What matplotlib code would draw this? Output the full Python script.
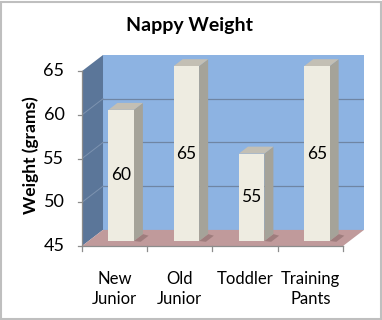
import matplotlib
matplotlib.use("Agg")
import matplotlib.pyplot as plt
from matplotlib.patches import Polygon, Rectangle

categories = ["New\nJunior", "Old\nJunior", "Toddler", "Training\nPants"]
values = [60, 65, 55, 65]
yticks = [45, 50, 55, 60, 65]
title = "Nappy Weight"
ylabel = "Weight (grams)"

FONT = ["Lato", "DejaVu Sans"]
plt.rcParams['font.family'] = FONT

W, H = 382, 320
fig = plt.figure(figsize=(W / 100, H / 100), dpi=100)
fig.patch.set_facecolor("white")
fig.add_artist(Rectangle((1 / W, 1 / H), 1 - 2.5 / W, 1 - 2.5 / H, transform=fig.transFigure,
                         fill=False, edgecolor="#BFBFBF", linewidth=1.5))

ymin, ymax = yticks[0], yticks[-1]
n = len(categories)
xmin, xmax = -0.5, n - 0.5
DX = 0.322   # full depth offset in x units
DY = 1.84    # full depth offset in y units

# axes: front plane + depth
left_px, right_px, bottom_px, top_px = 82, 364, 246, 55
ax = fig.add_axes([left_px / W, 1 - bottom_px / H, (right_px - left_px) / W, (bottom_px - top_px) / H])
ax.set_xlim(xmin, xmax + DX)
ax.set_ylim(ymin, ymax + DY)
ax.axis("off")


def P(x, y, f):
    return (x + f * DX, y + f * DY)


# back wall
ax.add_patch(Polygon([P(xmin, ymin, 1), P(xmax, ymin, 1), P(xmax, ymax, 1), P(xmin, ymax, 1)],
                     closed=True, facecolor="#8DB3E2", edgecolor="none", zorder=1))
# left wall
ax.add_patch(Polygon([P(xmin, ymin, 0), P(xmin, ymin, 1), P(xmin, ymax, 1), P(xmin, ymax, 0)],
                     closed=True, facecolor="#5B7699", edgecolor="none", zorder=1))
# floor
ax.add_patch(Polygon([P(xmin, ymin, 0), P(xmax, ymin, 0), P(xmax, ymin, 1), P(xmin, ymin, 1)],
                     closed=True, facecolor="#C09A9B", edgecolor="none", zorder=1))

# gridlines
for v in yticks[1:-1]:
    a, b = P(xmin, v, 1), P(xmax, v, 1)
    ax.plot([a[0], b[0]], [a[1], b[1]], color="#6F85A3", lw=0.9, zorder=2)
    c, d = P(xmin, v, 0), P(xmin, v, 1)
    ax.plot([c[0], d[0]], [c[1], d[1]], color="#7D93B0", lw=0.7, zorder=2)

# axes lines and ticks
ax.plot([xmin, xmin], [ymin, ymax], color="#8C8C8C", lw=0.9, zorder=3, clip_on=False)
ax.plot([xmin, xmax], [ymin, ymin], color="#8C8C8C", lw=0.9, zorder=3, clip_on=False)
tick_dx = 4 / 65.25
tick_dy = 5 / 8.7
for v in yticks:
    ax.plot([xmin - tick_dx, xmin], [v, v], color="#8C8C8C", lw=0.9, zorder=3, clip_on=False)
    ax.text(xmin - 0.27, v, str(v), ha="right", va="center", fontsize=13, color="black")
for i in range(n + 1):
    x = xmin + i
    ax.plot([x, x], [ymin, ymin - tick_dy], color="#8C8C8C", lw=0.9, zorder=3, clip_on=False)
for i, c in enumerate(categories):
    ax.text(i, ymin - 2.9, c, ha="center", va="top", fontsize=12, linespacing=1.25, color="black")

# bars
f1, f2 = 0.31, 0.74
hw = 0.195
for i, v in enumerate(values):
    x0, x1 = i - hw, i + hw
    # shadow on floor
    ax.add_patch(Polygon([P(x1, ymin, f1), P(x1 + 0.12, ymin, f1 - 0.05), P(x1 + 0.12, ymin, f2 - 0.1), P(x1, ymin, f2)],
                         closed=True, facecolor="#8A6A6A", edgecolor="none", alpha=0.6, zorder=4))
    # side
    ax.add_patch(Polygon([P(x1, ymin, f1), P(x1, ymin, f2), P(x1, v, f2), P(x1, v, f1)],
                         closed=True, facecolor="#A5A399", edgecolor="none", zorder=5))
    # top
    ax.add_patch(Polygon([P(x0, v, f1), P(x1, v, f1), P(x1, v, f2), P(x0, v, f2)],
                         closed=True, facecolor="#C3BFB4", edgecolor="none", zorder=5))
    # front
    ax.add_patch(Polygon([P(x0, ymin, f1), P(x1, ymin, f1), P(x1, v, f1), P(x0, v, f1)],
                         closed=True, facecolor="#EEECE1", edgecolor="none", zorder=6))
    cx, cy = P(i, (ymin + v) / 2, f1)
    ax.text(cx, cy, str(v), ha="center", va="center", fontsize=12.5, color="black", zorder=7)

fig.text(190 / W, 1 - 25 / H, title, ha="center", va="center", fontsize=14, fontweight="bold")
fig.text(31 / W, 1 - 155 / H, ylabel, ha="center", va="center", rotation=90, fontsize=12.5, fontweight="bold")

fig.savefig("out.png", dpi=100)
